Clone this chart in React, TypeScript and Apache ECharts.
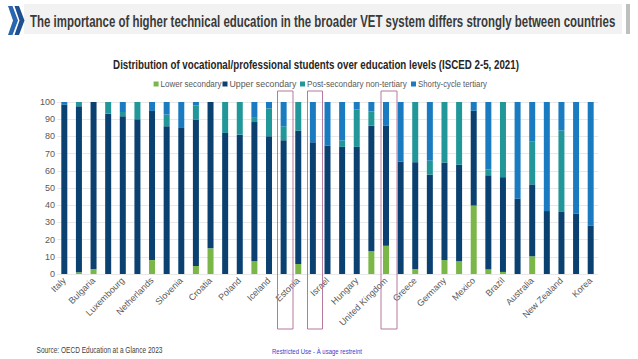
import React, { useEffect, useRef } from "react";
import * as echarts from "echarts";

const countries = [
  "Italy", "Lithuania", "Bulgaria", "Romania", "Luxembourg", "Slovak Republic", "Netherlands", "Czech Republic",
  "Slovenia", "Latvia", "Croatia", "Portugal", "Poland", "Sweden", "Iceland", "Denmark", "Estonia", "Norway",
  "Israel", "Ireland", "Hungary", "France", "United Kingdom", "Spain", "Greece", "Finland", "Germany",
  "Switzerland", "Mexico", "Austria", "Brazil", "Chile", "Australia", "Belgium", "New Zealand", "Japan", "Korea",
];

const lowerSecondary = [
  0, 1, 2.7, 0, 0, 0, 8.1, 0, 0, 4.7, 14.9, 0, 0, 7.4, 0, 0, 5.8, 0, 0, 0, 0, 13.3, 16.4, 0, 2.9, 0, 8.1,
  7.4, 39.8, 2.7, 1.2, 0, 10.3, 0, 0, 0, 0,
];
const upperSecondary = [
  98.5, 96.5, 97.3, 93.2, 91.7, 90, 86.7, 85.9, 84.9, 85.1, 85.1, 82, 81, 80.9, 80.1, 77.8, 77.6, 76.6, 74.7,
  73.9, 73.9, 72.9, 70, 65.4, 62.1, 57.8, 56.7, 56.1, 55.1, 54.7, 55.1, 43.7, 41.8, 36.6, 36.4, 35.2, 28,
];
const postSecondary = [
  0, 2.5, 0, 6.8, 2.5, 10, 0, 6.8, 0, 8.3, 0, 18, 19, 2.5, 16.2, 8.1, 16.6, 0, 0, 3.7, 21.7, 8.3, 0, 0, 35,
  8.1, 35.2, 36.5, 0, 3.3, 43.7, 0, 25.1, 0, 47, 0, 0,
];
const shortCycle = [
  1.5, 0, 0, 0, 5.8, 0, 5.2, 7.3, 15.1, 1.9, 0, 0, 0, 9.2, 3.7, 14.1, 0, 23.4, 25.3, 22.4, 4.4, 5.5, 13.6,
  34.6, 0, 34.1, 0, 0, 5.1, 39.3, 0, 56.3, 22.8, 63.4, 16.6, 64.8, 72,
];

const seriesNames = ["Lower secondary", "Upper secondary", "Post-secondary non-tertiary", "Shorty-cycle tertiary"];
const colors = ["#7ab648", "#0b4170", "#22979a", "#1b7bc0"];

const mainTitle =
  "The importance of higher technical education in the broader VET system differs strongly between countries";
const chartTitle = "Distribution of vocational/professional students over education levels (ISCED 2-5, 2021)";
const sourceText = "Source: OECD Education at a Glance 2023";
const restrictedText = "Restricted Use - À usage restreint";

const FAMILY = "'Liberation Sans Narrow', 'Liberation Sans', Arial, sans-serif";

function scaleTo(text: string, size: number, weight: string, target: number): number {
  const ctx = document.createElement("canvas").getContext("2d");
  if (!ctx) return 1;
  ctx.font = `${weight} ${size}px ${FAMILY}`;
  const w = ctx.measureText(text).width;
  return w > 0 ? target / w : 1;
}

function fittedText(text: string, x: number, y: number, size: number, weight: string, fill: string, target: number, align = "left") {
  return {
    type: "text",
    x,
    y,
    scaleX: scaleTo(text, size, weight, target),
    style: {
      text,
      fontSize: size,
      fontWeight: weight,
      fontFamily: FAMILY,
      fill,
      align,
      verticalAlign: "middle",
      textAlign: align,
      textVerticalAlign: "middle",
    },
  };
}

export default function App() {
  const ref = useRef<HTMLDivElement>(null);
  useEffect(() => {
    if (!ref.current) return;
    const chart = echarts.init(ref.current, null, { renderer: "svg" });

    const legendX = [153.6, 222.5, 300, 411];
    const legendW = [61, 67, 100, 69];
    const legendGraphics: any[] = [];
    seriesNames.forEach((n, i) => {
      legendGraphics.push({
        type: "rect",
        shape: { x: legendX[i], y: 81.5, width: 5, height: 5 },
        style: { fill: colors[i] },
      });
      legendGraphics.push(fittedText(n, legendX[i] + 7, 84, 9.5, "normal", "#595959", legendW[i]));
    });

    const boxes = [
      [277.5, 293],
      [307.5, 322.5],
      [381, 397],
    ].map(([a, b]) => ({
      type: "rect",
      shape: { x: a, y: 91, width: b - a, height: 238 },
      style: { fill: "none", stroke: "#b6799f", lineWidth: 1 },
      z: 100,
    }));

    const option: any = {
      animation: false,
      backgroundColor: "#ffffff",
      grid: { left: 57, right: 40, top: 102, bottom: 85, containLabel: false },
      xAxis: {
        type: "category",
        data: countries,
        axisLine: { show: false },
        axisTick: { show: false },
        axisLabel: {
          interval: 1,
          rotate: 45,
          fontSize: 9,
          color: "#595959",
          fontFamily: "'Liberation Sans', Arial, sans-serif",
          margin: 5,
        },
      },
      yAxis: {
        type: "value",
        min: 0,
        max: 100,
        interval: 10,
        axisLine: { show: false },
        axisTick: { show: false },
        axisLabel: { fontSize: 9, color: "#595959", fontFamily: "'Liberation Sans', Arial, sans-serif", margin: 2 },
        splitLine: { lineStyle: { color: "#e8e8e8", width: 1 } },
      },
      series: [lowerSecondary, upperSecondary, postSecondary, shortCycle].map((d, i) => ({
        name: seriesNames[i],
        type: "bar",
        stack: "total",
        data: d,
        barWidth: 6,
        itemStyle: { color: colors[i] },
        emphasis: { disabled: true },
      })),
      graphic: [
        {
          type: "rect",
          shape: { x: 24, y: 4, width: 598, height: 30 },
          style: { fill: "#f2f2f2" },
        },
        {
          type: "rect",
          shape: { x: 626, y: 4, width: 4, height: 30 },
          style: { fill: "#bfbfbf" },
        },
        {
          type: "polygon",
          shape: { points: [[8, 6], [12.5, 6], [18, 20.5], [12.5, 35], [8, 35], [13, 20.5]] },
          style: { fill: "#2a66b0" },
        },
        {
          type: "polygon",
          shape: { points: [[14.5, 6], [19, 6], [24.5, 20.5], [19, 35], [14.5, 35], [19.5, 20.5]] },
          style: { fill: "#1d4f91" },
        },
        fittedText(mainTitle, 30, 21, 16, "bold", "#3a3a3a", 586),
        fittedText(chartTitle, 316, 64.5, 12, "bold", "#262626", 406, "center"),
        ...legendGraphics,
        fittedText(sourceText, 36.6, 350, 8.5, "normal", "#404040", 126),
        fittedText(restrictedText, 272, 351, 6.5, "normal", "#3b3bd0", 90),
        ...boxes,
      ],
    };
    chart.setOption(option);
    return () => chart.dispose();
  }, []);
  return <div ref={ref} style={{ position: "absolute", left: 0, top: 0, width: 638, height: 359 }} />;
}
